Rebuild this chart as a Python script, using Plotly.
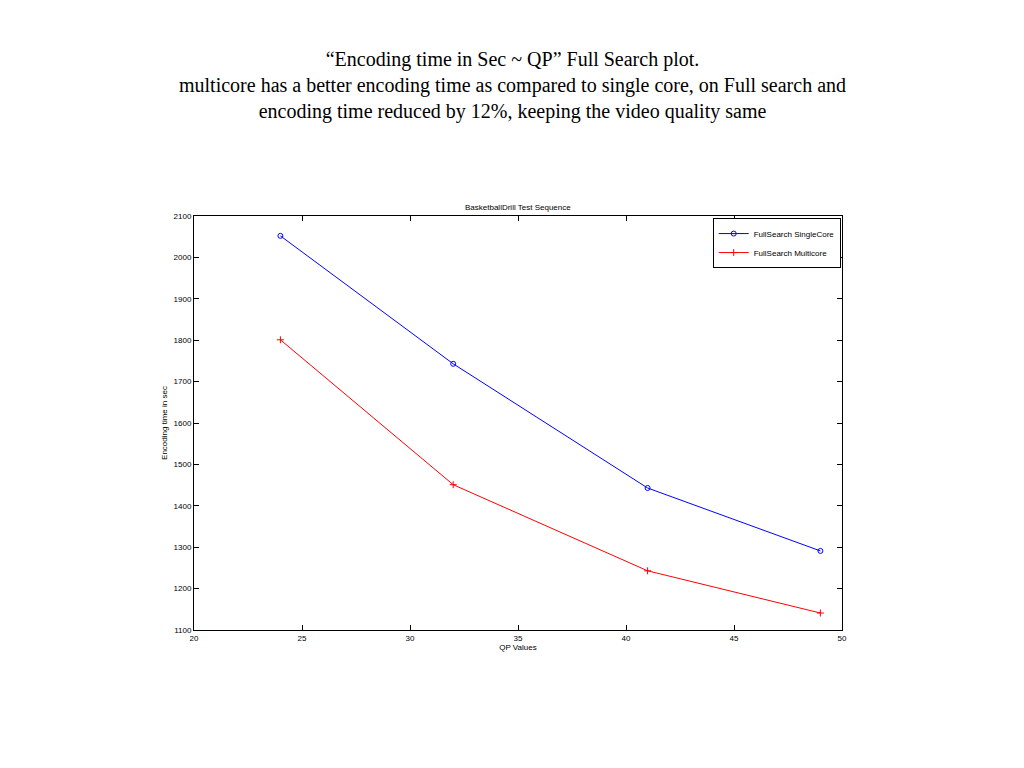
import plotly.graph_objects as go

qp = [24, 32, 41, 49]
single = [2052, 1743, 1443, 1291]
multi = [1801, 1451, 1243, 1141]

fig = go.Figure()
fig.add_trace(go.Scatter(x=qp, y=single, mode="lines+markers", name="FullSearch SingleCore",
                         line=dict(color="#0000ff", width=1),
                         marker=dict(symbol="circle-open", size=5, color="#0000ff")))
fig.add_trace(go.Scatter(x=qp, y=multi, mode="lines+markers", name="FullSearch Multicore",
                         line=dict(color="#ff0000", width=1),
                         marker=dict(symbol="cross-thin-open", size=5, color="#ff0000", line=dict(width=1, color="#ff0000"))))

axis_common = dict(showgrid=False, zeroline=False, showline=True, linecolor="black", linewidth=1,
                   mirror="allticks", ticks="inside", ticklen=5, tickcolor="black",
                   tickfont=dict(family="Liberation Sans", size=8, color="black"))
fig.update_xaxes(range=[20, 50], dtick=5, title=dict(text="QP Values", font=dict(family="Liberation Sans", size=8, color="black"), standoff=2), **axis_common)
fig.update_yaxes(range=[1100, 2100], dtick=100, title=dict(text="Encoding time in sec", font=dict(family="Liberation Sans", size=8, color="black"), standoff=4), **axis_common)

L, R, T, B = 186, 190, 208, 146
H = 768 - T - B
W = 1024 - L - R
fig.update_layout(
    width=1024, height=768, paper_bgcolor="white", plot_bgcolor="white",
    margin=dict(l=L, r=R, t=T, b=B),
    showlegend=True,
    legend=dict(x=0.998, y=0.995, xanchor="right", yanchor="top", bgcolor="white",
                bordercolor="black", borderwidth=1, font=dict(family="Liberation Sans", size=8, color="black"),
                tracegroupgap=0, itemwidth=30),
    annotations=[
        dict(text="BasketballDrill Test Sequence", x=0.5, y=1.005, xref="paper", yref="paper",
             xanchor="center", yanchor="bottom", showarrow=False,
             font=dict(family="Liberation Sans", size=8, color="black")),
        dict(text="“Encoding time in Sec ~ QP” Full Search plot.<br>multicore has a better encoding time as compared to single core, on Full search and<br>encoding time reduced by 12%, keeping the video quality same",
             x=(504 - L) / W, y=1.0 + (T - 38) / H, xref="paper", yref="paper", xanchor="center", yanchor="top",
             showarrow=False, font=dict(family="Liberation Serif", size=20, color="black")),
    ],
)
fig.write_html("out.html")
